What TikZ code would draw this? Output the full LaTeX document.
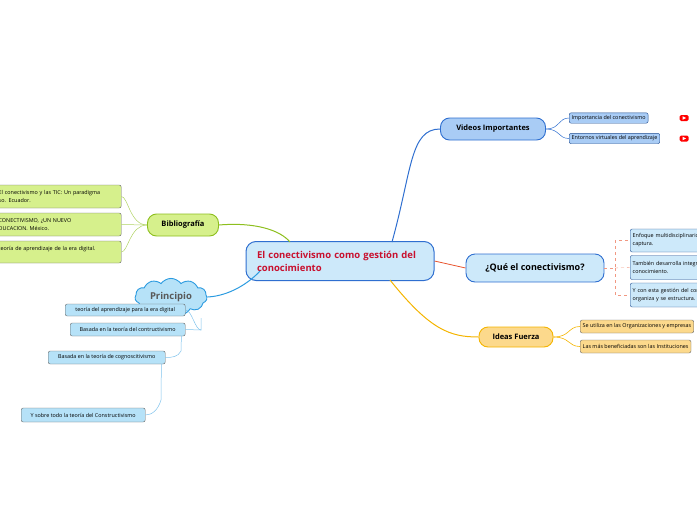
\documentclass[tikz,border=0pt]{standalone}
\usepackage{fontspec}
\setmainfont{Open Sans}
\usetikzlibrary{shapes.symbols}
\definecolor{cblue}{HTML}{2F6FD0}
\definecolor{cfill}{HTML}{CDE9FA}
\definecolor{vfill}{HTML}{A9CCF5}
\definecolor{gfill}{HTML}{D6F08C}
\definecolor{gline}{HTML}{8DBF1E}
\definecolor{ofill}{HTML}{FCD98C}
\definecolor{oline}{HTML}{F4B400}
\definecolor{pfill}{HTML}{B6E2F8}
\definecolor{pline}{HTML}{2B9BE0}
\definecolor{rline}{HTML}{E8542E}
\definecolor{ctext}{HTML}{C8102E}
\tikzset{
 x=1pt,y=-1pt,
 main/.style={draw=cblue,line width=1pt,rounded corners=10pt,fill=cfill,align=left,font=\bfseries\fontsize{9.5}{13}\selectfont,text=ctext,minimum width=188pt,minimum height=39pt,text width=166pt},
 topic/.style={rounded corners=9pt,line width=0.9pt,font=\bfseries\fontsize{7.5}{9}\selectfont,inner sep=0pt},
 sub/.style={draw=black!60,rounded corners=2pt,font=\fontsize{5.4}{8}\selectfont,inner sep=2.5pt,align=left,anchor=west},
 yt/.style={fill=red,rounded corners=1.5pt,minimum width=9pt,minimum height=6pt,inner sep=0pt},
}
\begin{document}
\begin{tikzpicture}
\useasboundingbox (0,0) rectangle (697,520);
\clip (0,0) rectangle (697,520);
% center
\node[main] (c) at (340,261) {El conectivismo como gestión del\\conocimiento};
% topics
\node[topic,draw=cblue,fill=vfill,minimum width=105pt,minimum height=22pt] (v) at (493,129) {Videos Importantes};
\node[topic,draw=cblue,fill=cfill,minimum width=138pt,minimum height=28pt,font=\bfseries\fontsize{9}{10}\selectfont] (q) at (535,268) {¿Qué el conectivismo?};
\node[topic,draw=oline,fill=ofill,minimum width=74pt,minimum height=20pt] (f) at (516,337) {Ideas Fuerza};
\node[topic,draw=gline,fill=gfill,minimum width=71pt,minimum height=22pt] (b) at (183,225) {Bibliografía};
\node[cloud,cloud puffs=11,cloud puff arc=110,aspect=2,draw=pline,line width=0.9pt,fill=pfill,text=black!65,font=\bfseries\fontsize{9.5}{11}\selectfont,minimum width=72pt,minimum height=36pt,inner sep=0pt] (p) at (171,297) {Principio};
\coordinate (cv) at (392,242);
\coordinate (cf) at (390,280);
\coordinate (cb) at (290,242);
\coordinate (cp) at (260,271);
% center edges
\draw[cblue,line width=1pt] (cv) .. controls (412,170) and (410,129) .. (v.west);
\draw[rline,line width=0.8pt] (c.east) -- (q.west);
\draw[oline,line width=1pt] (cf) .. controls (430,330) and (450,337) .. (f.west);
\draw[gline,line width=1pt] (b.east) .. controls (255,222) and (280,230) .. (cb);
\draw[pline,line width=1pt] (p.east) .. controls (230,296) and (250,282) .. (cp);
% video subs
\node[sub,fill=vfill,draw=cblue!70!black] (v1) at (569,118) {Importancia del conectivismo};
\node[sub,fill=vfill,draw=cblue!70!black] (v2) at (569,138.5) {Entornos virtuales del aprendizaje};
\node[yt] (y1) at (684,118) {}; \node[yt] (y2) at (684,138.5) {};
\fill[white] (y1.center)++(-1.5,-1.8) -- ++(3.5,1.8) -- ++(-3.5,1.8) -- cycle;
\fill[white] (y2.center)++(-1.5,-1.8) -- ++(3.5,1.8) -- ++(-3.5,1.8) -- cycle;
\draw[cblue,line width=0.5pt] (v.east) .. controls (560,129) and (558,118) .. (v1.west);
\draw[cblue,line width=0.5pt] (v.east) .. controls (560,129) and (558,138.5) .. (v2.west);
% que subs
\node[sub,fill=cfill,draw=cblue!70!black,text width=130pt,minimum height=23pt] (q1) at (630,240.5) {Enfoque multidisciplinario que\\captura.};
\node[sub,fill=cfill,draw=cblue!70!black,text width=130pt,minimum height=24pt] (q2) at (630,267.5) {También desarrolla integración del\\conocimiento.};
\node[sub,fill=cfill,draw=cblue!70!black,text width=130pt,minimum height=24pt] (q3) at (630,295) {Y con esta gestión del conocimiento se\\organiza y se estructura.};
\draw[rline!60,dashed,line width=0.4pt] (q.east) -- (615,268) |- (q1.west);
\draw[rline!60,dashed,line width=0.4pt] (615,268) -- (q2.west);
\draw[rline!60,dashed,line width=0.4pt] (615,268) |- (q3.west);
% ideas subs
\node[sub,fill=ofill,draw=black!60,minimum height=13pt] (f1) at (580,326.5) {Se utiliza en las Organizaciones y empresas};
\node[sub,fill=ofill,draw=black!60,minimum height=13pt] (f2) at (580,346.5) {Las más beneficiadas son las Instituciones};
\draw[oline,line width=0.6pt] (f.east) .. controls (570,337) and (568,326.5) .. (f1.west);
\draw[oline,line width=0.6pt] (f.east) .. controls (570,337) and (568,346.5) .. (f2.west);
% bib subs
\node[sub,fill=gfill,minimum height=23pt,text width=120pt] (b1) at (-4,196.5) {El conectivismo y las TIC: Un paradigma\\so. Ecuador.};
\node[sub,fill=gfill,minimum height=23pt,text width=120pt] (b2) at (-4,224.5) {CONECTIVISMO, ¿UN NUEVO\\DUCACION. México.};
\node[sub,fill=gfill,minimum height=22pt,text width=120pt] (b3) at (-4,252) {teoría de aprendizaje de la era digital.\\\mbox{}};
\draw[gline!70,line width=0.5pt] (b.west) .. controls (130,225) and (128,196.5) .. (b1.east);
\draw[gline!70,line width=0.5pt] (b.west) -- (b2.east);
\draw[gline!70,line width=0.5pt] (b.west) .. controls (130,225) and (128,252) .. (b3.east);
% principio subs
\node[sub,fill=pfill,minimum height=12pt,minimum width=120pt] (p1) at (65,310) {teoría del aprendizaje para la era digital};
\node[sub,fill=pfill,minimum height=13pt,minimum width=115pt] (p2) at (70,329.5) {Basada en la teoría del contructivismo};
\node[sub,fill=pfill,minimum height=13pt,minimum width=117pt] (p3) at (48,357.5) {Basada en la teoría de cognoscitivismo};
\node[sub,fill=pfill,minimum height=14pt,minimum width=124pt] (p4) at (21,415) {Y sobre todo la teoría del Constructivismo};
\coordinate (pa) at (201,318); \coordinate (pb) at (201,330);
\coordinate (pd) at (181,351);
\coordinate (pf) at (161,400);
\draw[pline!60,line width=0.5pt] (pa) -- (pb) .. controls (195,330) and (192,310) .. (p1.east);
\draw[pline!60,line width=0.5pt] (pb) .. controls (195,330) and (192,329.5) .. (p2.east);
\draw[pline!60,line width=0.5pt] (p2.south east) ++(-4,0) -- (pd) .. controls (178,357) and (172,357.5) .. (p3.east);
\draw[pline!60,line width=0.5pt] (p3.south east) ++(-4,0) -- (pf) .. controls (158,410) and (152,415) .. (p4.east);
\end{tikzpicture}
\end{document}
